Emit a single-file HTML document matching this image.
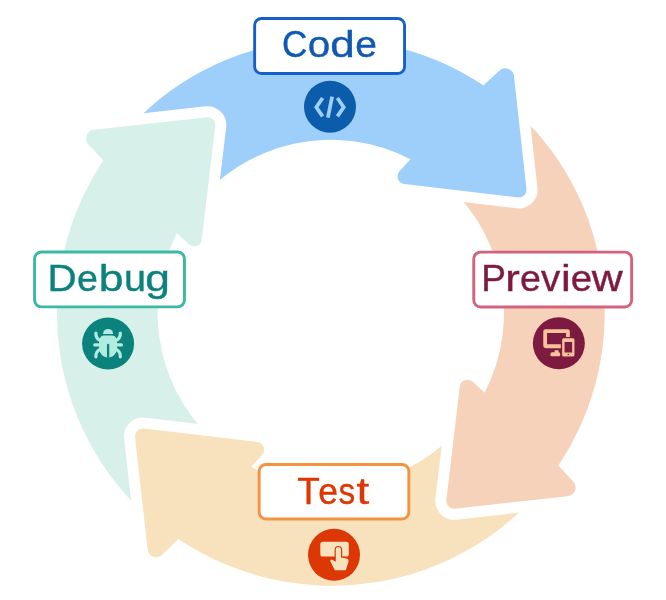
<!DOCTYPE html>
<html><head><meta charset="utf-8"><title>Cycle</title>
<style>
html,body{margin:0;padding:0;background:#fff;}
body{width:666px;height:600px;overflow:hidden;}
svg{display:block;}
text{font-family:"Liberation Sans",sans-serif;}
</style></head><body>
<svg width="666" height="600" viewBox="0 0 666 600">
<defs><mask id="gm" maskUnits="userSpaceOnUse" x="0" y="0" width="666" height="600"><rect width="666" height="600" fill="#fff"/></mask><clipPath id="topclip"><rect x="0" y="0" width="333" height="250"/></clipPath></defs>
<rect width="666" height="600" fill="#fff"/>
<path d="M-215.84,-168.63 A273.90,273.90 0 0 1 152.53,-227.50 L168.38,-242.37 A8.80,8.80 0 0 1 183.15,-236.93 L195.71,-124.17 A7.80,7.80 0 0 1 187.04,-115.56 L73.62,-129.00 A7.80,7.80 0 0 1 68.82,-142.04 L79.69,-153.78 A173.20,173.20 0 0 0 -136.48,-106.63 Z" transform="translate(330.8 313) rotate(270)" fill="#d7f1ea" stroke="#fff" stroke-width="22" stroke-linejoin="round" paint-order="stroke" />
<path d="M-218.53,-166.80 A275.80,275.80 0 0 1 152.50,-226.00 L168.28,-241.61 A8.80,8.80 0 0 1 183.21,-236.33 L195.71,-124.17 A7.80,7.80 0 0 1 187.04,-115.56 L73.62,-129.00 A7.80,7.80 0 0 1 68.82,-142.04 L79.69,-153.78 A173.20,173.20 0 0 0 -136.48,-106.63 Z" transform="translate(330.8 313) rotate(180)" fill="#f7e2bd" stroke="#fff" stroke-width="22" stroke-linejoin="round" paint-order="stroke" />
<path d="M-215.84,-168.63 A273.90,273.90 0 0 1 152.53,-227.50 L168.38,-242.37 A8.80,8.80 0 0 1 183.15,-236.93 L195.71,-124.17 A7.80,7.80 0 0 1 187.04,-115.56 L73.62,-129.00 A7.80,7.80 0 0 1 68.82,-142.04 L79.69,-153.78 A173.20,173.20 0 0 0 -136.48,-106.63 Z" transform="translate(330.8 313) rotate(90)" fill="#f6d2ba" stroke="#fff" stroke-width="22" stroke-linejoin="round" paint-order="stroke" />
<path d="M-215.84,-168.63 A273.90,273.90 0 0 1 152.53,-227.50 L168.38,-242.37 A8.80,8.80 0 0 1 183.15,-236.93 L195.71,-124.17 A7.80,7.80 0 0 1 187.04,-115.56 L73.62,-129.00 A7.80,7.80 0 0 1 68.82,-142.04 L79.69,-153.78 A173.20,173.20 0 0 0 -136.48,-106.63 Z" transform="translate(330.8 313) rotate(0)" fill="#9dcffa" stroke="#fff" stroke-width="22" stroke-linejoin="round" paint-order="stroke" />
<g clip-path="url(#topclip)"><path d="M-215.84,-168.63 A273.90,273.90 0 0 1 152.53,-227.50 L168.38,-242.37 A8.80,8.80 0 0 1 183.15,-236.93 L195.71,-124.17 A7.80,7.80 0 0 1 187.04,-115.56 L73.62,-129.00 A7.80,7.80 0 0 1 68.82,-142.04 L79.69,-153.78 A173.20,173.20 0 0 0 -136.48,-106.63 Z" transform="translate(330.8 313) rotate(270)" fill="#d7f1ea" stroke="#fff" stroke-width="22" stroke-linejoin="round" paint-order="stroke" /></g>
<rect x="254.65" y="18.45" width="149.90" height="55.00" rx="6.8" fill="#fff" stroke="#175fc8" stroke-width="2.9"/><g aria-label="Code" mask="url(#gm)" font-size="37.5" fill="#1058b2" stroke="#1058b2" stroke-width="0.4"><text transform="translate(282.11 56.70) scale(0.9347 1.000)">C</text><text transform="translate(307.82 56.70) scale(1.0759 0.985)">o</text><text transform="translate(330.18 56.70) scale(1.1768 0.985)">d</text><text transform="translate(355.17 56.70) scale(1.0389 0.985)">e</text></g>
<rect x="473.75" y="252.15" width="157.90" height="54.90" rx="6.8" fill="#fff" stroke="#d4627f" stroke-width="2.9"/><g aria-label="Preview" mask="url(#gm)" font-size="37.5" fill="#7d1a40" stroke="#7d1a40" stroke-width="0.4"><text transform="translate(481.36 290.60) scale(0.9865 1.000)">P</text><text transform="translate(505.18 290.60) scale(1.1646 0.985)">r</text><text transform="translate(519.92 290.60) scale(1.0000 0.985)">e</text><text transform="translate(540.93 290.60) scale(1.0263 0.985)">v</text><text transform="translate(560.96 290.60) scale(1.1733 0.985)">i</text><text transform="translate(570.69 290.60) scale(1.0222 0.985)">e</text><text transform="translate(591.79 290.60) scale(1.1439 0.985)">w</text></g>
<rect x="259.15" y="464.45" width="149.70" height="54.50" rx="6.8" fill="#fff" stroke="#f4923f" stroke-width="2.9"/><g aria-label="Test" mask="url(#gm)" font-size="37.5" fill="#dc3705" stroke="#dc3705" stroke-width="0.4"><text transform="translate(297.18 504.00) scale(0.9850 1.000)">T</text><text transform="translate(318.30 504.00) scale(0.9444 0.985)">e</text><text transform="translate(338.52 504.00) scale(0.8896 0.985)">s</text><text transform="translate(356.44 504.00) scale(1.2200 0.985)">t</text></g>
<rect x="34.55" y="251.95" width="149.90" height="54.90" rx="6.8" fill="#fff" stroke="#3bb9a7" stroke-width="2.9"/><g aria-label="Debug" mask="url(#gm)" font-size="37.5" fill="#0b827c" stroke="#0b827c" stroke-width="0.4"><text transform="translate(47.41 290.70) scale(1.0740 1.000)">D</text><text transform="translate(76.92 290.70) scale(1.0000 0.985)">e</text><text transform="translate(98.63 290.70) scale(1.1884 0.985)">b</text><text transform="translate(123.92 290.70) scale(1.0565 0.985)">u</text><text transform="translate(145.27 290.70) scale(1.1826 0.985)">g</text></g>
<g transform="translate(330 106.7)"><circle r="26" fill="#0b5cab"/>
<g fill="none" stroke="#9dcffa" stroke-width="3.5" stroke-linejoin="miter" transform="translate(0 0.5) scale(1.07)">
<path d="M-6.9,-8.6 L-12.8,0 L-6.9,8.6"/><path d="M6.9,-8.6 L12.8,0 L6.9,8.6"/><path d="M2,-9.8 L-2,9.8"/></g></g>
<g transform="translate(558.85 343.35)"><circle r="26" fill="#7d1a40"/>
<g fill="#f7c39c">
<path fill-rule="evenodd" d="M-13.2,-14.2 H8.6 A2.4,2.4 0 0 1 11,-11.8 V-6.4 H7.2 V-10.4 H-11.8 V1 H2 V4.8 H-13.2 A2.4,2.4 0 0 1 -15.6,2.4 V-11.8 A2.4,2.4 0 0 1 -13.2,-14.2 Z"/>
<path d="M-4.2,7.0 H-0.3 V9.0 H-0.2 A1.6,1.6 0 0 1 1.4,10.6 V11.6 A1.4,1.4 0 0 1 0,13 H-7 A1.4,1.4 0 0 1 -8.4,11.6 V10.6 A1.6,1.6 0 0 1 -6.8,9.0 H-4.2 Z"/>
<path fill-rule="evenodd" d="M4.8,-5.1 H14.1 A1.5,1.5 0 0 1 15.6,-3.6 V11.7 A1.5,1.5 0 0 1 14.1,13.2 H4.8 A1.5,1.5 0 0 1 3.3,11.7 V-3.6 A1.5,1.5 0 0 1 4.8,-5.1 Z M5.7,-1.4 V9.1 H13.3 V-1.4 Z M8.7,11.1 a0.75,0.75 0 1 0 1.5,0 a0.75,0.75 0 1 0 -1.5,0 Z"/>
</g></g>
<g transform="translate(334 554.8)"><circle r="26" fill="#dc3705"/>
<rect x="-13.7" y="-13.1" width="28.5" height="14.9" rx="2.6" fill="#f9e3bf"/>
<path d="M1.8,-5.1 A2.6,2.6 0 0 1 7,-5.1 V2.6 L12.6,3.6 Q14.9,4.2 14.6,6.8 L11.8,15.4 H0.9 L-3.6,6.6 Q-4.1,5 -2.4,4.6 L1.8,7 Z" fill="#f9e3bf" stroke="#dc3705" stroke-width="2.4" paint-order="stroke" stroke-linejoin="round"/>
</g>
<g transform="translate(108.1 343.6)"><circle r="26" fill="#0b827c"/>
<g fill="#b2ece0">
<path d="M-5,-9.7 A5,5 0 0 1 5,-9.7 Z"/>
<path d="M-4,-8.2 H4 C7.5,-8.2 9,-5 9,-1 V4 C9,10 5,14 0,14 C-5,14 -9,10 -9,4 V-1 C-9,-5 -7.5,-8.2 -4,-8.2 Z"/>
</g>
<path d="M-1.15,14.2 V1.2 A1.15,1.15 0 0 1 1.15,1.2 V14.2 Z" fill="#0b827c"/>
<g fill="none" stroke="#b2ece0" stroke-width="3.2" stroke-linecap="round">
<path d="M-8.5,-3.5 Q-12.4,-5.5 -12.2,-10.6"/><path d="M8.5,-3.5 Q12.4,-5.5 12.2,-10.6"/>
<path d="M-9,1.3 H-13.3"/><path d="M9,1.3 H13.3"/>
<path d="M-8.5,6 Q-12.4,8 -12.2,13.2"/><path d="M8.5,6 Q12.4,8 12.2,13.2"/>
</g></g>
</svg>
</body></html>
